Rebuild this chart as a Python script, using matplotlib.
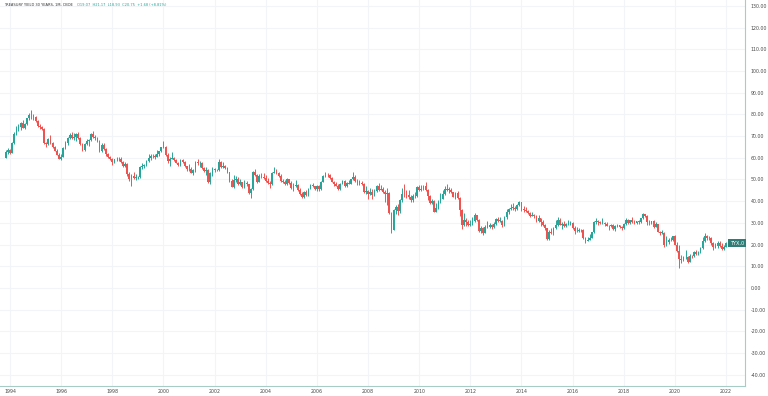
import numpy as np
import matplotlib.pyplot as plt

# Monthly candles, yield x10, Nov 1993 .. Jan 2022
first_open = 60.0
closes = [
    62.8, 63.5,
    62.4, 66.6, 70.9, 73.2, 74.3, 76.1, 73.9, 75.6, 78.1, 79.6, 79.8, 78.7,
    77.0, 74.4, 74.3, 73.4, 66.6, 66.2, 68.5, 66.6, 64.8, 63.3, 61.4, 59.5,
    60.5, 64.6, 66.7, 69.0, 70.6, 68.9, 69.6, 71.1, 69.2, 66.4, 63.5, 66.4,
    67.9, 68.0, 71.0, 69.4, 69.1, 67.8, 63.0, 66.1, 64.0, 61.5, 60.5, 59.2,
    58.0, 59.2, 59.3, 59.5, 58.0, 56.2, 57.2, 52.6, 50.0, 51.6, 50.6, 50.9,
    50.9, 55.8, 56.3, 56.6, 58.3, 59.7, 61.0, 60.6, 60.5, 61.6, 62.9, 64.8,
    64.9, 61.4, 58.3, 59.6, 60.1, 59.0, 57.8, 56.7, 58.8, 57.9, 56.0, 54.6,
    55.0, 53.1, 54.4, 57.9, 57.5, 57.6, 55.2, 53.7, 54.2, 48.7, 52.9, 54.7,
    54.3, 54.2, 58.0, 55.9, 56.2, 55.2, 53.2, 49.3, 46.7, 49.8, 50.4, 47.8,
    48.7, 46.7, 48.2, 47.7, 43.7, 45.6, 53.6, 52.2, 48.8, 51.5, 51.3, 50.7,
    49.4, 48.3, 47.7, 53.0, 53.5, 53.0, 51.8, 49.2, 48.9, 47.9, 50.0, 48.3,
    45.9, 47.0, 47.5, 45.0, 43.1, 41.9, 44.2, 42.6, 45.7, 47.6, 46.8, 45.4,
    47.0, 45.4, 48.9, 51.7, 52.2, 51.9, 50.7, 49.0, 47.7, 47.2, 45.6, 48.1,
    49.3, 46.8, 48.4, 48.1, 50.1, 51.2, 49.1, 48.3, 48.3, 47.9, 44.2, 44.5,
    43.3, 44.1, 43.0, 44.8, 47.1, 45.2, 45.8, 44.2, 43.1, 43.6, 34.4, 26.9,
    35.8, 37.1, 35.6, 40.5, 43.4, 43.2, 42.8, 41.8, 40.3, 42.3, 42.2, 46.4,
    45.1, 45.7, 47.1, 45.2, 42.2, 39.1, 39.9, 35.2, 36.9, 39.8, 41.1, 43.3,
    45.7, 45.1, 45.1, 44.0, 42.1, 43.7, 41.3, 36.0, 29.1, 31.3, 30.4, 28.9,
    29.4, 30.9, 33.4, 31.2, 26.4, 27.5, 25.5, 28.1, 28.2, 29.1, 28.1, 29.5,
    31.7, 30.8, 31.0, 28.8, 32.7, 35.0, 36.4, 37.0, 36.9, 36.3, 38.1, 39.7,
    36.0, 35.9, 35.6, 34.7, 33.3, 33.6, 33.2, 30.8, 32.0, 30.6, 28.9, 27.5,
    22.5, 25.9, 25.4, 27.5, 28.8, 31.2, 29.2, 29.5, 28.5, 29.3, 29.8, 30.1,
    27.5, 26.1, 26.1, 26.7, 26.5, 22.9, 21.8, 22.3, 23.2, 25.8, 30.3, 30.7,
    30.6, 30.0, 30.1, 29.5, 28.7, 28.4, 29.0, 27.3, 28.6, 28.8, 28.3, 27.4,
    29.5, 31.3, 29.7, 31.1, 30.3, 29.8, 30.8, 30.2, 32.1, 33.9, 33.0, 30.2,
    30.0, 30.8, 28.2, 29.3, 25.8, 25.3, 25.3, 19.6, 21.2, 21.9, 22.1, 23.9,
    20.0, 16.8, 13.2, 12.8, 14.1, 14.1, 11.9, 14.9, 14.6, 16.6, 15.7, 16.5,
    18.3, 21.7, 24.1, 23.0, 22.9, 20.6, 18.9, 19.3, 20.8, 19.3, 17.9, 19.0,
    20.7,
]
highs = [
    63.5, 64.6,
    64.0, 67.2, 71.8, 74.6, 75.5, 76.6, 77.2, 76.0, 78.5, 80.6, 82.0, 80.2,
    79.4, 77.5, 75.6, 74.8, 73.8, 67.1, 69.0, 70.6, 67.2, 65.4, 63.9, 62.0,
    61.6, 65.0, 67.5, 69.4, 71.2, 71.7, 71.2, 71.5, 71.9, 69.5, 66.8, 66.8,
    68.6, 68.6, 71.3, 72.2, 70.5, 69.6, 68.0, 66.6, 66.6, 64.6, 62.4, 60.8,
    60.0, 59.6, 60.2, 60.4, 60.3, 58.4, 58.0, 57.6, 53.2, 52.6, 53.6, 52.4,
    51.8, 56.2, 57.4, 57.2, 59.0, 61.8, 61.6, 61.8, 61.6, 63.4, 63.2, 65.0,
    67.5, 65.2, 62.0, 60.2, 62.6, 60.4, 59.6, 58.2, 59.3, 59.4, 58.6, 56.4,
    57.2, 55.9, 54.9, 58.4, 59.6, 58.3, 58.2, 55.8, 55.8, 54.6, 53.4, 55.7,
    55.2, 55.0, 59.3, 58.6, 58.1, 56.6, 55.8, 53.6, 50.4, 52.2, 51.5, 51.2,
    50.4, 49.0, 49.6, 49.2, 48.0, 46.2, 54.0, 54.6, 52.6, 52.4, 52.8, 53.0,
    52.0, 50.6, 49.2, 53.6, 55.6, 54.8, 53.4, 52.4, 50.4, 49.6, 50.6, 50.4,
    49.2, 48.2, 49.6, 48.0, 46.0, 44.1, 44.6, 45.2, 46.0, 48.0, 48.3, 47.2,
    47.4, 47.4, 49.3, 52.0, 53.6, 53.1, 52.6, 51.1, 49.3, 49.0, 47.7, 48.4,
    49.8, 49.7, 48.8, 49.6, 50.4, 53.4, 52.1, 50.0, 49.6, 49.4, 48.2, 46.8,
    45.0, 46.2, 45.4, 45.6, 47.5, 48.2, 47.4, 46.6, 45.2, 46.0, 44.0, 35.2,
    36.2, 38.4, 38.8, 41.0, 46.0, 48.0, 45.0, 45.2, 42.6, 43.4, 44.0, 46.8,
    47.6, 47.3, 47.6, 49.0, 45.8, 43.0, 41.2, 40.4, 39.2, 40.3, 43.8, 45.2,
    47.0, 48.0, 46.6, 46.2, 44.4, 44.0, 44.6, 41.7, 36.4, 34.4, 32.4, 31.4,
    31.4, 32.6, 34.4, 33.6, 31.6, 28.6, 28.0, 29.2, 31.0, 30.0, 29.6, 30.2,
    32.2, 32.6, 32.8, 31.2, 33.0, 36.4, 37.0, 38.9, 39.0, 37.8, 38.6, 39.9,
    39.8, 37.6, 37.4, 36.0, 35.0, 35.0, 34.2, 33.6, 33.4, 32.4, 31.4, 29.6,
    27.8, 26.6, 27.4, 27.9, 31.4, 32.6, 32.4, 30.4, 30.8, 29.8, 31.2, 30.8,
    30.4, 28.4, 28.0, 27.4, 27.2, 27.2, 23.4, 23.6, 24.8, 26.0, 30.8, 32.0,
    31.2, 31.0, 32.0, 30.4, 30.4, 29.2, 29.5, 29.3, 28.9, 29.4, 29.2, 28.6,
    29.8, 32.2, 31.8, 31.4, 32.6, 31.2, 31.0, 31.2, 32.4, 34.6, 34.2, 33.4,
    31.4, 31.0, 31.2, 30.2, 29.4, 26.2, 26.9, 25.7, 23.8, 23.2, 23.6, 24.1,
    24.2, 21.2, 19.6, 15.2, 14.8, 17.6, 14.6, 15.6, 15.4, 17.0, 17.6, 17.2,
    19.0, 23.6, 25.1, 24.4, 24.0, 23.4, 21.2, 20.6, 21.6, 21.8, 20.8, 19.8,
    21.0,
]
lows = [
    59.8, 61.8,
    61.9, 62.0, 66.2, 70.3, 72.1, 72.8, 73.5, 73.2, 74.9, 77.6, 78.0, 77.4,
    76.6, 74.0, 73.3, 72.9, 66.2, 64.8, 65.9, 66.4, 64.3, 62.9, 61.1, 59.3,
    58.9, 60.2, 64.2, 66.0, 68.6, 68.6, 68.4, 67.8, 68.8, 66.0, 63.1, 62.9,
    65.9, 65.5, 67.6, 69.0, 68.4, 67.4, 62.8, 62.6, 63.6, 61.0, 59.8, 58.8,
    56.7, 57.6, 58.6, 58.7, 57.7, 55.8, 55.7, 51.6, 49.5, 47.2, 50.1, 49.6,
    50.3, 50.6, 55.0, 55.4, 56.2, 58.1, 59.1, 59.8, 59.6, 60.2, 60.7, 62.5,
    64.3, 60.9, 57.8, 56.3, 59.2, 58.6, 57.4, 56.3, 56.4, 57.4, 55.6, 53.8,
    53.8, 52.8, 52.1, 53.6, 56.8, 55.9, 54.9, 53.2, 52.0, 48.2, 48.1, 51.6,
    53.3, 53.7, 53.9, 55.5, 55.4, 54.6, 52.8, 48.8, 46.4, 46.2, 48.8, 47.5,
    47.6, 46.2, 46.0, 46.8, 43.2, 41.6, 45.0, 51.4, 48.4, 48.6, 50.7, 50.2,
    49.0, 47.8, 46.0, 47.4, 52.8, 52.4, 51.2, 48.8, 48.2, 47.3, 47.6, 47.9,
    45.6, 44.9, 46.6, 44.6, 42.8, 41.4, 41.6, 42.2, 42.3, 45.4, 46.4, 45.0,
    44.8, 44.7, 45.1, 48.6, 51.2, 51.0, 50.3, 48.6, 47.2, 46.8, 45.2, 45.3,
    47.8, 46.4, 46.3, 47.7, 47.8, 49.8, 48.7, 47.4, 47.5, 47.4, 43.8, 43.5,
    41.1, 42.6, 41.0, 42.3, 44.3, 44.8, 45.0, 43.8, 39.4, 38.4, 34.0, 25.1,
    26.5, 34.0, 33.6, 34.5, 39.8, 42.0, 41.6, 41.2, 39.6, 39.8, 41.4, 41.8,
    44.8, 44.8, 45.2, 44.8, 40.4, 38.6, 38.7, 34.9, 35.0, 36.2, 39.2, 40.8,
    42.8, 44.8, 43.6, 43.6, 41.8, 40.9, 40.9, 33.2, 27.2, 28.6, 28.6, 28.4,
    28.4, 29.0, 30.6, 30.8, 26.0, 25.2, 24.4, 25.2, 27.4, 27.8, 27.0, 27.8,
    29.2, 30.2, 30.4, 28.2, 28.6, 31.6, 34.3, 35.8, 35.8, 35.6, 35.9, 37.8,
    35.6, 35.2, 34.9, 34.2, 32.9, 33.0, 32.4, 30.4, 30.4, 28.6, 28.6, 26.8,
    22.2, 22.3, 24.8, 24.6, 27.2, 28.4, 28.8, 27.2, 28.2, 28.0, 29.0, 28.8,
    27.2, 24.9, 25.8, 25.6, 25.6, 22.6, 20.9, 21.6, 22.0, 22.9, 25.2, 29.6,
    28.8, 29.6, 29.6, 28.6, 28.4, 26.8, 28.0, 26.8, 26.3, 28.2, 27.6, 26.9,
    27.2, 29.2, 29.4, 29.4, 29.8, 29.6, 29.4, 29.6, 29.8, 31.8, 32.8, 29.0,
    28.8, 29.6, 27.8, 28.0, 25.6, 24.6, 25.0, 19.0, 19.2, 20.4, 21.6, 21.6,
    19.8, 16.4, 9.0, 11.6, 12.6, 13.4, 11.6, 11.8, 13.8, 14.2, 15.0, 15.4,
    16.3, 18.0, 21.0, 22.0, 22.0, 19.7, 17.7, 18.6, 18.6, 19.0, 17.7, 17.5,
    18.9,
]
year_ticks = [1994, 1996, 1998, 2000, 2002, 2004, 2006, 2008, 2010, 2012,
              2014, 2016, 2018, 2020, 2022]
y_ticks = list(range(-40, 131, 10))

c = np.array(closes)
o = np.concatenate([[first_open], c[:-1]])
h = np.array(highs)
l = np.array(lows)
t = 1993 + 10 / 12 + np.arange(len(c)) / 12

up_col = '#26a69a'
dn_col = '#ef5350'
cols = np.where(c >= o, up_col, dn_col)

fig = plt.figure(figsize=(7.68, 3.96), dpi=100)
ax = fig.add_axes([0, 10 / 396, 745 / 768, 386 / 396])

ax.vlines(t, l, h, colors=cols, linewidth=0.7, zorder=2)
body = np.maximum(np.abs(c - o), 0.3)
ax.bar(t, body, bottom=np.minimum(o, c), width=0.066, color=cols,
       linewidth=0, zorder=3)

ax.set_xlim(1993.61, 2022.74)
ax.set_ylim(-45.2, 132.7)
ax.set_xticks(year_ticks)
ax.set_xticklabels([str(y) for y in year_ticks])
ax.set_yticks(y_ticks)
ax.set_yticklabels([f'{v:.2f}' for v in y_ticks])
ax.yaxis.tick_right()
ax.tick_params(axis='both', length=0, labelsize=3.4, colors='#4a4a4a')
ax.tick_params(axis='y', pad=4)
ax.tick_params(axis='x', pad=2.5)
ax.grid(True, color='#f3f4f7', linewidth=0.8, zorder=0)
ax.set_axisbelow(True)
for side in ['top', 'left']:
    ax.spines[side].set_visible(False)
for side in ['right', 'bottom']:
    ax.spines[side].set_color('#a8cbc6')
    ax.spines[side].set_linewidth(0.8)

title = ax.text(0.006, 0.993, 'TREASURY YIELD 30 YEARS, 1M, CBOE',
                transform=ax.transAxes, fontsize=2.6, color='#333333',
                va='top', ha='left')
ax.annotate('O19.07  H21.17  L18.93  C20.75  +1.68 (+8.81%)',
            xy=(1, 0.5), xycoords=title, xytext=(3, 0),
            textcoords='offset points', fontsize=2.6, color='#26a69a',
            va='center', ha='left')

ax.text(2022.70, c[-1], 'TYX,0', fontsize=3.6, color='white', ha='right',
        va='center', zorder=5,
        bbox=dict(boxstyle='square,pad=0.35', fc='#2e7d76', ec='none'))

fig.savefig('out.png', dpi=100)
